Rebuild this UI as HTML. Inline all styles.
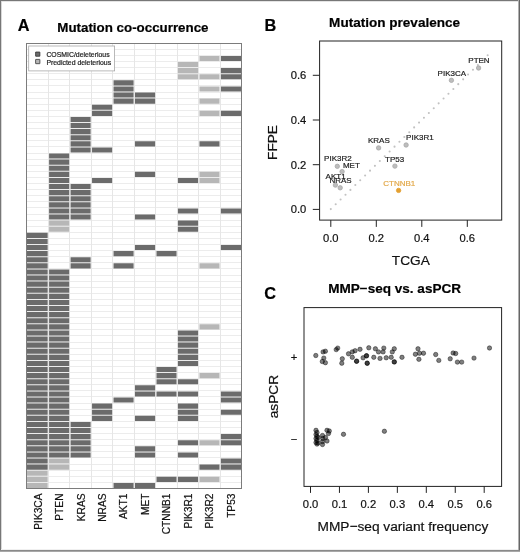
<!DOCTYPE html>
<html><head><meta charset="utf-8"><title>Mutation figure</title>
<style>
html,body{margin:0;padding:0;background:#fff;width:520px;height:552px;overflow:hidden;}
svg{display:block;}
text{font-family:"Liberation Sans",Arial,Helvetica,sans-serif;}
</style></head>
<body>
<svg width="520" height="552" viewBox="0 0 520 552">
<rect x="0" y="0" width="520" height="552" fill="#fff"/>
<g id="panelA">
<path d="M26.9 49.5H241.7M26.9 55.5H241.7M26.9 61.5H241.7M26.9 67.5H241.7M26.9 73.5H241.7M26.9 79.5H241.7M26.9 85.5H241.7M26.9 92.5H241.7M26.9 98.5H241.7M26.9 104.5H241.7M26.9 110.5H241.7M26.9 116.5H241.7M26.9 122.5H241.7M26.9 128.5H241.7M26.9 134.5H241.7M26.9 140.5H241.7M26.9 146.5H241.7M26.9 153.5H241.7M26.9 159.5H241.7M26.9 165.5H241.7M26.9 171.5H241.7M26.9 177.5H241.7M26.9 183.5H241.7M26.9 189.5H241.7M26.9 195.5H241.7M26.9 201.5H241.7M26.9 207.5H241.7M26.9 214.5H241.7M26.9 220.5H241.7M26.9 226.5H241.7M26.9 232.5H241.7M26.9 238.5H241.7M26.9 244.5H241.7M26.9 250.5H241.7M26.9 256.5H241.7M26.9 262.5H241.7M26.9 268.5H241.7M26.9 275.5H241.7M26.9 281.5H241.7M26.9 287.5H241.7M26.9 293.5H241.7M26.9 299.5H241.7M26.9 305.5H241.7M26.9 311.5H241.7M26.9 317.5H241.7M26.9 323.5H241.7M26.9 329.5H241.7M26.9 335.5H241.7M26.9 342.5H241.7M26.9 348.5H241.7M26.9 354.5H241.7M26.9 360.5H241.7M26.9 366.5H241.7M26.9 372.5H241.7M26.9 378.5H241.7M26.9 384.5H241.7M26.9 390.5H241.7M26.9 396.5H241.7M26.9 403.5H241.7M26.9 409.5H241.7M26.9 415.5H241.7M26.9 421.5H241.7M26.9 427.5H241.7M26.9 433.5H241.7M26.9 439.5H241.7M26.9 445.5H241.7M26.9 451.5H241.7M26.9 457.5H241.7M26.9 464.5H241.7M26.9 470.5H241.7M26.9 476.5H241.7M26.9 482.5H241.7" stroke="#ececec" stroke-width="1" fill="none"/>
<path d="M48.5 43.2V488.5M69.5 43.2V488.5M91.5 43.2V488.5M112.5 43.2V488.5M134.5 43.2V488.5M155.5 43.2V488.5M177.5 43.2V488.5M198.5 43.2V488.5M220.5 43.2V488.5" stroke="#e6e6e6" stroke-width="1" fill="none"/>
<path d="M220.92 55.9h20.78v5.1h-20.78zM220.92 68.1h20.78v5.1h-20.78zM220.92 74.2h20.78v5.1h-20.78zM113.52 80.3h20.08v5.1h-20.08zM113.52 86.4h20.08v5.1h-20.08zM220.92 86.4h20.78v5.1h-20.78zM113.52 92.5h20.08v5.1h-20.08zM135 92.5h20.08v5.1h-20.08zM113.52 98.6h20.08v5.1h-20.08zM135 98.6h20.08v5.1h-20.08zM92.04 104.7h20.08v5.1h-20.08zM92.04 110.8h20.08v5.1h-20.08zM220.92 110.8h20.78v5.1h-20.78zM70.56 116.9h20.08v5.1h-20.08zM70.56 123h20.08v5.1h-20.08zM70.56 129.1h20.08v5.1h-20.08zM70.56 135.2h20.08v5.1h-20.08zM70.56 141.3h20.08v5.1h-20.08zM135 141.3h20.08v5.1h-20.08zM199.44 141.3h20.08v5.1h-20.08zM70.56 147.4h20.08v5.1h-20.08zM92.04 147.4h20.08v5.1h-20.08zM49.08 153.5h20.08v5.1h-20.08zM49.08 159.6h20.08v5.1h-20.08zM49.08 165.7h20.08v5.1h-20.08zM49.08 171.8h20.08v5.1h-20.08zM135 171.8h20.08v5.1h-20.08zM49.08 177.9h20.08v5.1h-20.08zM92.04 177.9h20.08v5.1h-20.08zM177.96 177.9h20.08v5.1h-20.08zM49.08 184h20.08v5.1h-20.08zM70.56 184h20.08v5.1h-20.08zM49.08 190.1h20.08v5.1h-20.08zM70.56 190.1h20.08v5.1h-20.08zM49.08 196.2h20.08v5.1h-20.08zM70.56 196.2h20.08v5.1h-20.08zM49.08 202.3h20.08v5.1h-20.08zM70.56 202.3h20.08v5.1h-20.08zM49.08 208.4h20.08v5.1h-20.08zM70.56 208.4h20.08v5.1h-20.08zM177.96 208.4h20.08v5.1h-20.08zM220.92 208.4h20.78v5.1h-20.78zM49.08 214.5h20.08v5.1h-20.08zM70.56 214.5h20.08v5.1h-20.08zM135 214.5h20.08v5.1h-20.08zM177.96 220.6h20.08v5.1h-20.08zM177.96 226.7h20.08v5.1h-20.08zM26.9 232.8h20.78v5.1h-20.78zM26.9 238.9h20.78v5.1h-20.78zM26.9 245h20.78v5.1h-20.78zM135 245h20.08v5.1h-20.08zM220.92 245h20.78v5.1h-20.78zM26.9 251.1h20.78v5.1h-20.78zM113.52 251.1h20.08v5.1h-20.08zM156.48 251.1h20.08v5.1h-20.08zM26.9 257.2h20.78v5.1h-20.78zM70.56 257.2h20.08v5.1h-20.08zM26.9 263.3h20.78v5.1h-20.78zM70.56 263.3h20.08v5.1h-20.08zM113.52 263.3h20.08v5.1h-20.08zM26.9 269.4h20.78v5.1h-20.78zM49.08 269.4h20.08v5.1h-20.08zM26.9 275.5h20.78v5.1h-20.78zM49.08 275.5h20.08v5.1h-20.08zM26.9 281.6h20.78v5.1h-20.78zM49.08 281.6h20.08v5.1h-20.08zM26.9 287.7h20.78v5.1h-20.78zM49.08 287.7h20.08v5.1h-20.08zM26.9 293.8h20.78v5.1h-20.78zM49.08 293.8h20.08v5.1h-20.08zM26.9 299.9h20.78v5.1h-20.78zM49.08 299.9h20.08v5.1h-20.08zM26.9 306h20.78v5.1h-20.78zM49.08 306h20.08v5.1h-20.08zM26.9 312.1h20.78v5.1h-20.78zM49.08 312.1h20.08v5.1h-20.08zM26.9 318.2h20.78v5.1h-20.78zM49.08 318.2h20.08v5.1h-20.08zM26.9 324.3h20.78v5.1h-20.78zM49.08 324.3h20.08v5.1h-20.08zM26.9 330.4h20.78v5.1h-20.78zM49.08 330.4h20.08v5.1h-20.08zM177.96 330.4h20.08v5.1h-20.08zM26.9 336.5h20.78v5.1h-20.78zM49.08 336.5h20.08v5.1h-20.08zM177.96 336.5h20.08v5.1h-20.08zM26.9 342.6h20.78v5.1h-20.78zM49.08 342.6h20.08v5.1h-20.08zM177.96 342.6h20.08v5.1h-20.08zM26.9 348.7h20.78v5.1h-20.78zM49.08 348.7h20.08v5.1h-20.08zM177.96 348.7h20.08v5.1h-20.08zM26.9 354.8h20.78v5.1h-20.78zM49.08 354.8h20.08v5.1h-20.08zM177.96 354.8h20.08v5.1h-20.08zM26.9 360.9h20.78v5.1h-20.78zM49.08 360.9h20.08v5.1h-20.08zM177.96 360.9h20.08v5.1h-20.08zM26.9 367h20.78v5.1h-20.78zM49.08 367h20.08v5.1h-20.08zM156.48 367h20.08v5.1h-20.08zM26.9 373.1h20.78v5.1h-20.78zM49.08 373.1h20.08v5.1h-20.08zM156.48 373.1h20.08v5.1h-20.08zM26.9 379.2h20.78v5.1h-20.78zM49.08 379.2h20.08v5.1h-20.08zM156.48 379.2h20.08v5.1h-20.08zM177.96 379.2h20.08v5.1h-20.08zM26.9 385.3h20.78v5.1h-20.78zM49.08 385.3h20.08v5.1h-20.08zM135 385.3h20.08v5.1h-20.08zM26.9 391.4h20.78v5.1h-20.78zM49.08 391.4h20.08v5.1h-20.08zM135 391.4h20.08v5.1h-20.08zM156.48 391.4h20.08v5.1h-20.08zM177.96 391.4h20.08v5.1h-20.08zM220.92 391.4h20.78v5.1h-20.78zM26.9 397.5h20.78v5.1h-20.78zM49.08 397.5h20.08v5.1h-20.08zM113.52 397.5h20.08v5.1h-20.08zM220.92 397.5h20.78v5.1h-20.78zM26.9 403.6h20.78v5.1h-20.78zM49.08 403.6h20.08v5.1h-20.08zM92.04 403.6h20.08v5.1h-20.08zM177.96 403.6h20.08v5.1h-20.08zM26.9 409.7h20.78v5.1h-20.78zM49.08 409.7h20.08v5.1h-20.08zM92.04 409.7h20.08v5.1h-20.08zM177.96 409.7h20.08v5.1h-20.08zM220.92 409.7h20.78v5.1h-20.78zM26.9 415.8h20.78v5.1h-20.78zM49.08 415.8h20.08v5.1h-20.08zM92.04 415.8h20.08v5.1h-20.08zM135 415.8h20.08v5.1h-20.08zM177.96 415.8h20.08v5.1h-20.08zM26.9 421.9h20.78v5.1h-20.78zM49.08 421.9h20.08v5.1h-20.08zM70.56 421.9h20.08v5.1h-20.08zM26.9 428h20.78v5.1h-20.78zM49.08 428h20.08v5.1h-20.08zM70.56 428h20.08v5.1h-20.08zM26.9 434.1h20.78v5.1h-20.78zM49.08 434.1h20.08v5.1h-20.08zM70.56 434.1h20.08v5.1h-20.08zM220.92 434.1h20.78v5.1h-20.78zM26.9 440.2h20.78v5.1h-20.78zM49.08 440.2h20.08v5.1h-20.08zM70.56 440.2h20.08v5.1h-20.08zM177.96 440.2h20.08v5.1h-20.08zM220.92 440.2h20.78v5.1h-20.78zM26.9 446.3h20.78v5.1h-20.78zM49.08 446.3h20.08v5.1h-20.08zM70.56 446.3h20.08v5.1h-20.08zM135 446.3h20.08v5.1h-20.08zM26.9 452.4h20.78v5.1h-20.78zM49.08 452.4h20.08v5.1h-20.08zM70.56 452.4h20.08v5.1h-20.08zM135 452.4h20.08v5.1h-20.08zM177.96 452.4h20.08v5.1h-20.08zM26.9 458.5h20.78v5.1h-20.78zM220.92 458.5h20.78v5.1h-20.78zM26.9 464.6h20.78v5.1h-20.78zM199.44 464.6h20.08v5.1h-20.08zM220.92 464.6h20.78v5.1h-20.78zM156.48 476.8h20.08v5.1h-20.08zM177.96 476.8h20.08v5.1h-20.08zM113.52 482.9h20.08v5.1h-20.08zM135 482.9h20.08v5.1h-20.08z" fill="#6b6b6b"/>
<path d="M199.44 55.9h20.08v5.1h-20.08zM177.96 62h20.08v5.1h-20.08zM177.96 68.1h20.08v5.1h-20.08zM177.96 74.2h20.08v5.1h-20.08zM199.44 74.2h20.08v5.1h-20.08zM199.44 86.4h20.08v5.1h-20.08zM199.44 98.6h20.08v5.1h-20.08zM199.44 110.8h20.08v5.1h-20.08zM199.44 171.8h20.08v5.1h-20.08zM199.44 177.9h20.08v5.1h-20.08zM49.08 220.6h20.08v5.1h-20.08zM49.08 226.7h20.08v5.1h-20.08zM199.44 263.3h20.08v5.1h-20.08zM199.44 324.3h20.08v5.1h-20.08zM199.44 373.1h20.08v5.1h-20.08zM199.44 440.2h20.08v5.1h-20.08zM49.08 458.5h20.08v5.1h-20.08zM49.08 464.6h20.08v5.1h-20.08zM26.9 470.7h20.78v5.1h-20.78zM26.9 476.8h20.78v5.1h-20.78zM199.44 476.8h20.08v5.1h-20.08zM26.9 482.9h20.78v5.1h-20.78z" fill="#b7b7b7"/>
<rect x="26.5" y="43.5" width="215" height="445" fill="none" stroke="#7c7c7c" stroke-width="1"/>
<rect x="28.7" y="46" width="85.9" height="24.9" fill="#fff" stroke="#a8a8a8" stroke-width="0.8"/>
<rect x="35.6" y="52" width="4.3" height="4.3" fill="#6b6b6b" stroke="#222" stroke-width="0.7" rx="0.25"/>
<rect x="35.6" y="59.4" width="4.3" height="4.3" fill="#b7b7b7" stroke="#222" stroke-width="0.7" rx="0.25"/>
<text x="46.4" y="57" font-size="6.9" fill="#222" stroke="#222" stroke-width="0.2">COSMIC/deleterious</text>
<text x="46.4" y="64.7" font-size="6.9" fill="#222" stroke="#222" stroke-width="0.2">Predicted deleterious</text>
<text transform="translate(41.54 493.5) rotate(-90)" text-anchor="end" font-size="10.2" fill="#111" stroke="#111" stroke-width="0.2">PIK3CA</text>
<text transform="translate(63.02 493.5) rotate(-90)" text-anchor="end" font-size="10.2" fill="#111" stroke="#111" stroke-width="0.2">PTEN</text>
<text transform="translate(84.5 493.5) rotate(-90)" text-anchor="end" font-size="10.2" fill="#111" stroke="#111" stroke-width="0.2">KRAS</text>
<text transform="translate(105.98 493.5) rotate(-90)" text-anchor="end" font-size="10.2" fill="#111" stroke="#111" stroke-width="0.2">NRAS</text>
<text transform="translate(127.46 493.5) rotate(-90)" text-anchor="end" font-size="10.2" fill="#111" stroke="#111" stroke-width="0.2">AKT1</text>
<text transform="translate(148.94 493.5) rotate(-90)" text-anchor="end" font-size="10.2" fill="#111" stroke="#111" stroke-width="0.2">MET</text>
<text transform="translate(170.42 493.5) rotate(-90)" text-anchor="end" font-size="10.2" fill="#111" stroke="#111" stroke-width="0.2">CTNNB1</text>
<text transform="translate(191.9 493.5) rotate(-90)" text-anchor="end" font-size="10.2" fill="#111" stroke="#111" stroke-width="0.2">PIK3R1</text>
<text transform="translate(213.38 493.5) rotate(-90)" text-anchor="end" font-size="10.2" fill="#111" stroke="#111" stroke-width="0.2">PIK3R2</text>
<text transform="translate(234.86 493.5) rotate(-90)" text-anchor="end" font-size="10.2" fill="#111" stroke="#111" stroke-width="0.2">TP53</text>
</g>
<text x="17.8" y="30.8" font-size="16.3" font-weight="bold" fill="#000" stroke="#000" stroke-width="0.2">A</text>
<text x="264.5" y="30.8" font-size="16.3" font-weight="bold" fill="#000" stroke="#000" stroke-width="0.2">B</text>
<text x="264.2" y="298.8" font-size="16.3" font-weight="bold" fill="#000" stroke="#000" stroke-width="0.2">C</text>
<text x="132.9" y="32" font-size="13.35" font-weight="bold" text-anchor="middle" fill="#000" stroke="#000" stroke-width="0.2">Mutation co-occurrence</text>
<text x="394.6" y="27.4" font-size="13.55" font-weight="bold" text-anchor="middle" fill="#000" stroke="#000" stroke-width="0.2">Mutation prevalence</text>
<text x="394.6" y="293" font-size="13.55" font-weight="bold" text-anchor="middle" fill="#000" stroke="#000" stroke-width="0.2">MMP−seq vs. asPCR</text>
<g id="panelB">
<rect x="319.6" y="41" width="182.1" height="179.1" fill="none" stroke="#222" stroke-width="1"/>
<path d="M312.8 209.4H319.6" stroke="#222" stroke-width="1"/>
<text x="306.3" y="213.3" font-size="11.2" text-anchor="end" fill="#111" stroke="#111" stroke-width="0.2">0.0</text>
<path d="M330.8 220.1V226.9" stroke="#222" stroke-width="1"/>
<text x="330.8" y="242" font-size="11.2" text-anchor="middle" fill="#111" stroke="#111" stroke-width="0.2">0.0</text>
<path d="M312.8 164.7H319.6" stroke="#222" stroke-width="1"/>
<text x="306.3" y="168.6" font-size="11.2" text-anchor="end" fill="#111" stroke="#111" stroke-width="0.2">0.2</text>
<path d="M376.3 220.1V226.9" stroke="#222" stroke-width="1"/>
<text x="376.3" y="242" font-size="11.2" text-anchor="middle" fill="#111" stroke="#111" stroke-width="0.2">0.2</text>
<path d="M312.8 120H319.6" stroke="#222" stroke-width="1"/>
<text x="306.3" y="123.9" font-size="11.2" text-anchor="end" fill="#111" stroke="#111" stroke-width="0.2">0.4</text>
<path d="M421.8 220.1V226.9" stroke="#222" stroke-width="1"/>
<text x="421.8" y="242" font-size="11.2" text-anchor="middle" fill="#111" stroke="#111" stroke-width="0.2">0.4</text>
<path d="M312.8 75.3H319.6" stroke="#222" stroke-width="1"/>
<text x="306.3" y="79.2" font-size="11.2" text-anchor="end" fill="#111" stroke="#111" stroke-width="0.2">0.6</text>
<path d="M467.3 220.1V226.9" stroke="#222" stroke-width="1"/>
<text x="467.3" y="242" font-size="11.2" text-anchor="middle" fill="#111" stroke="#111" stroke-width="0.2">0.6</text>
<text x="410.8" y="265.2" font-size="13.7" text-anchor="middle" fill="#111" stroke="#111" stroke-width="0.2">TCGA</text>
<text transform="translate(276.8 142.5) rotate(-90)" font-size="13.7" text-anchor="middle" fill="#111" stroke="#111" stroke-width="0.2">FFPE</text>
<path d="M330.8 209.1L488 55" stroke="#c2c2c2" stroke-width="2.1" stroke-dasharray="0 6.865" stroke-dashoffset="0" stroke-linecap="round" fill="none"/>
<circle cx="478.6" cy="68" r="2.2" fill="#bdbdbd" stroke="#a8a8a8" stroke-width="0.8"/>
<circle cx="451.4" cy="80.3" r="2.2" fill="#bdbdbd" stroke="#a8a8a8" stroke-width="0.8"/>
<circle cx="378.6" cy="147.9" r="2.2" fill="#bdbdbd" stroke="#a8a8a8" stroke-width="0.8"/>
<circle cx="406.1" cy="145" r="2.2" fill="#bdbdbd" stroke="#a8a8a8" stroke-width="0.8"/>
<circle cx="394.9" cy="166.1" r="2.2" fill="#bdbdbd" stroke="#a8a8a8" stroke-width="0.8"/>
<circle cx="337.3" cy="166.3" r="2.2" fill="#bdbdbd" stroke="#a8a8a8" stroke-width="0.8"/>
<circle cx="342.1" cy="171.6" r="2.2" fill="#bdbdbd" stroke="#a8a8a8" stroke-width="0.8"/>
<circle cx="335.4" cy="185.1" r="2.2" fill="#bdbdbd" stroke="#a8a8a8" stroke-width="0.8"/>
<circle cx="340.2" cy="187.8" r="2.2" fill="#bdbdbd" stroke="#a8a8a8" stroke-width="0.8"/>
<circle cx="398.6" cy="190.4" r="2.2" fill="#e3a030" stroke="#e3a030" stroke-width="0.8"/>
<text x="468.3" y="63" font-size="8" fill="#222" stroke="#222" stroke-width="0.2">PTEN</text>
<text x="437.6" y="76.1" font-size="8" fill="#222" stroke="#222" stroke-width="0.2">PIK3CA</text>
<text x="368" y="143.3" font-size="8" fill="#222" stroke="#222" stroke-width="0.2">KRAS</text>
<text x="406.1" y="139.7" font-size="8" fill="#222" stroke="#222" stroke-width="0.2">PIK3R1</text>
<text x="385" y="161.9" font-size="8" fill="#222" stroke="#222" stroke-width="0.2">TP53</text>
<text x="324.1" y="161.3" font-size="8" fill="#222" stroke="#222" stroke-width="0.2">PIK3R2</text>
<text x="342.9" y="167.8" font-size="8" fill="#222" stroke="#222" stroke-width="0.2">MET</text>
<text x="325.6" y="179.3" font-size="8" fill="#222" stroke="#222" stroke-width="0.2">AKT1</text>
<text x="329.4" y="182.7" font-size="8" fill="#222" stroke="#222" stroke-width="0.2">NRAS</text>
<text x="383.3" y="186.2" font-size="8" fill="#e2a849" stroke="#e2a849" stroke-width="0.2">CTNNB1</text>
</g>
<g id="panelC">
<rect x="304" y="307.6" width="197.6" height="178.8" fill="none" stroke="#222" stroke-width="1"/>
<path d="M310.5 486.4V492.9" stroke="#222" stroke-width="1"/>
<text x="310.5" y="507.8" font-size="11.2" text-anchor="middle" fill="#111" stroke="#111" stroke-width="0.2">0.0</text>
<path d="M339.45 486.4V492.9" stroke="#222" stroke-width="1"/>
<text x="339.45" y="507.8" font-size="11.2" text-anchor="middle" fill="#111" stroke="#111" stroke-width="0.2">0.1</text>
<path d="M368.4 486.4V492.9" stroke="#222" stroke-width="1"/>
<text x="368.4" y="507.8" font-size="11.2" text-anchor="middle" fill="#111" stroke="#111" stroke-width="0.2">0.2</text>
<path d="M397.35 486.4V492.9" stroke="#222" stroke-width="1"/>
<text x="397.35" y="507.8" font-size="11.2" text-anchor="middle" fill="#111" stroke="#111" stroke-width="0.2">0.3</text>
<path d="M426.3 486.4V492.9" stroke="#222" stroke-width="1"/>
<text x="426.3" y="507.8" font-size="11.2" text-anchor="middle" fill="#111" stroke="#111" stroke-width="0.2">0.4</text>
<path d="M455.25 486.4V492.9" stroke="#222" stroke-width="1"/>
<text x="455.25" y="507.8" font-size="11.2" text-anchor="middle" fill="#111" stroke="#111" stroke-width="0.2">0.5</text>
<path d="M484.2 486.4V492.9" stroke="#222" stroke-width="1"/>
<text x="484.2" y="507.8" font-size="11.2" text-anchor="middle" fill="#111" stroke="#111" stroke-width="0.2">0.6</text>
<text x="294.1" y="361.25" font-size="11.2" text-anchor="middle" fill="#111" stroke="#111" stroke-width="0.2">+</text>
<text x="294.1" y="442.7" font-size="11.2" text-anchor="middle" fill="#111" stroke="#111" stroke-width="0.2">−</text>
<text x="402.9" y="531.4" font-size="13.7" text-anchor="middle" fill="#111" stroke="#111" stroke-width="0.2">MMP−seq variant frequency</text>
<text transform="translate(278 396.6) rotate(-90)" font-size="13.7" text-anchor="middle" fill="#111" stroke="#111" stroke-width="0.2">asPCR</text>
<circle cx="315.8" cy="355.5" r="2.2" fill="#000" fill-opacity="0.5" stroke="#000" stroke-opacity="0.5" stroke-width="0.8"/>
<circle cx="323.1" cy="351.9" r="2.2" fill="#000" fill-opacity="0.5" stroke="#000" stroke-opacity="0.5" stroke-width="0.8"/>
<circle cx="325.4" cy="351.2" r="2.2" fill="#000" fill-opacity="0.5" stroke="#000" stroke-opacity="0.5" stroke-width="0.8"/>
<circle cx="323.8" cy="358.1" r="2.2" fill="#000" fill-opacity="0.5" stroke="#000" stroke-opacity="0.5" stroke-width="0.8"/>
<circle cx="322.3" cy="361.5" r="2.2" fill="#000" fill-opacity="0.5" stroke="#000" stroke-opacity="0.5" stroke-width="0.8"/>
<circle cx="325.4" cy="362.7" r="2.2" fill="#000" fill-opacity="0.5" stroke="#000" stroke-opacity="0.5" stroke-width="0.8"/>
<circle cx="336.2" cy="349.6" r="2.2" fill="#000" fill-opacity="0.5" stroke="#000" stroke-opacity="0.5" stroke-width="0.8"/>
<circle cx="337.7" cy="348.1" r="2.2" fill="#000" fill-opacity="0.5" stroke="#000" stroke-opacity="0.5" stroke-width="0.8"/>
<circle cx="342.3" cy="358.8" r="2.2" fill="#000" fill-opacity="0.5" stroke="#000" stroke-opacity="0.5" stroke-width="0.8"/>
<circle cx="341.8" cy="363.2" r="2.2" fill="#000" fill-opacity="0.5" stroke="#000" stroke-opacity="0.5" stroke-width="0.8"/>
<circle cx="348.5" cy="353.8" r="2.2" fill="#000" fill-opacity="0.5" stroke="#000" stroke-opacity="0.5" stroke-width="0.8"/>
<circle cx="352.3" cy="351.9" r="2.2" fill="#000" fill-opacity="0.5" stroke="#000" stroke-opacity="0.5" stroke-width="0.8"/>
<circle cx="355.1" cy="350.7" r="2.2" fill="#000" fill-opacity="0.5" stroke="#000" stroke-opacity="0.5" stroke-width="0.8"/>
<circle cx="360" cy="349.3" r="2.2" fill="#000" fill-opacity="0.5" stroke="#000" stroke-opacity="0.5" stroke-width="0.8"/>
<circle cx="352.3" cy="357.3" r="2.2" fill="#000" fill-opacity="0.5" stroke="#000" stroke-opacity="0.5" stroke-width="0.8"/>
<circle cx="356.6" cy="361.2" r="2.2" fill="#000" fill-opacity="0.5" stroke="#000" stroke-opacity="0.5" stroke-width="0.8"/>
<circle cx="363.1" cy="357.8" r="2.2" fill="#000" fill-opacity="0.5" stroke="#000" stroke-opacity="0.5" stroke-width="0.8"/>
<circle cx="366.5" cy="355.8" r="2.2" fill="#000" fill-opacity="0.5" stroke="#000" stroke-opacity="0.5" stroke-width="0.8"/>
<circle cx="368.8" cy="347.8" r="2.2" fill="#000" fill-opacity="0.5" stroke="#000" stroke-opacity="0.5" stroke-width="0.8"/>
<circle cx="367.2" cy="363.2" r="2.2" fill="#000" fill-opacity="0.5" stroke="#000" stroke-opacity="0.5" stroke-width="0.8"/>
<circle cx="373.8" cy="357.3" r="2.2" fill="#000" fill-opacity="0.5" stroke="#000" stroke-opacity="0.5" stroke-width="0.8"/>
<circle cx="375.4" cy="348.8" r="2.2" fill="#000" fill-opacity="0.5" stroke="#000" stroke-opacity="0.5" stroke-width="0.8"/>
<circle cx="378.5" cy="351.9" r="2.2" fill="#000" fill-opacity="0.5" stroke="#000" stroke-opacity="0.5" stroke-width="0.8"/>
<circle cx="380" cy="358.4" r="2.2" fill="#000" fill-opacity="0.5" stroke="#000" stroke-opacity="0.5" stroke-width="0.8"/>
<circle cx="383.8" cy="348.1" r="2.2" fill="#000" fill-opacity="0.5" stroke="#000" stroke-opacity="0.5" stroke-width="0.8"/>
<circle cx="383.1" cy="351.9" r="2.2" fill="#000" fill-opacity="0.5" stroke="#000" stroke-opacity="0.5" stroke-width="0.8"/>
<circle cx="386.2" cy="357.8" r="2.2" fill="#000" fill-opacity="0.5" stroke="#000" stroke-opacity="0.5" stroke-width="0.8"/>
<circle cx="391.2" cy="357.3" r="2.2" fill="#000" fill-opacity="0.5" stroke="#000" stroke-opacity="0.5" stroke-width="0.8"/>
<circle cx="394.3" cy="348.8" r="2.2" fill="#000" fill-opacity="0.5" stroke="#000" stroke-opacity="0.5" stroke-width="0.8"/>
<circle cx="392.3" cy="351.9" r="2.2" fill="#000" fill-opacity="0.5" stroke="#000" stroke-opacity="0.5" stroke-width="0.8"/>
<circle cx="394.3" cy="361.9" r="2.2" fill="#000" fill-opacity="0.5" stroke="#000" stroke-opacity="0.5" stroke-width="0.8"/>
<circle cx="402" cy="357.3" r="2.2" fill="#000" fill-opacity="0.5" stroke="#000" stroke-opacity="0.5" stroke-width="0.8"/>
<circle cx="418" cy="348.8" r="2.2" fill="#000" fill-opacity="0.5" stroke="#000" stroke-opacity="0.5" stroke-width="0.8"/>
<circle cx="415.4" cy="354.2" r="2.2" fill="#000" fill-opacity="0.5" stroke="#000" stroke-opacity="0.5" stroke-width="0.8"/>
<circle cx="419.5" cy="353.2" r="2.2" fill="#000" fill-opacity="0.5" stroke="#000" stroke-opacity="0.5" stroke-width="0.8"/>
<circle cx="423.5" cy="353.2" r="2.2" fill="#000" fill-opacity="0.5" stroke="#000" stroke-opacity="0.5" stroke-width="0.8"/>
<circle cx="418.9" cy="359.3" r="2.2" fill="#000" fill-opacity="0.5" stroke="#000" stroke-opacity="0.5" stroke-width="0.8"/>
<circle cx="435.7" cy="354.5" r="2.2" fill="#000" fill-opacity="0.5" stroke="#000" stroke-opacity="0.5" stroke-width="0.8"/>
<circle cx="438.8" cy="360.4" r="2.2" fill="#000" fill-opacity="0.5" stroke="#000" stroke-opacity="0.5" stroke-width="0.8"/>
<circle cx="450.2" cy="358.8" r="2.2" fill="#000" fill-opacity="0.5" stroke="#000" stroke-opacity="0.5" stroke-width="0.8"/>
<circle cx="453.1" cy="353" r="2.2" fill="#000" fill-opacity="0.5" stroke="#000" stroke-opacity="0.5" stroke-width="0.8"/>
<circle cx="455.7" cy="353.5" r="2.2" fill="#000" fill-opacity="0.5" stroke="#000" stroke-opacity="0.5" stroke-width="0.8"/>
<circle cx="457.4" cy="362.1" r="2.2" fill="#000" fill-opacity="0.5" stroke="#000" stroke-opacity="0.5" stroke-width="0.8"/>
<circle cx="461.7" cy="362.1" r="2.2" fill="#000" fill-opacity="0.5" stroke="#000" stroke-opacity="0.5" stroke-width="0.8"/>
<circle cx="474" cy="358.1" r="2.2" fill="#000" fill-opacity="0.5" stroke="#000" stroke-opacity="0.5" stroke-width="0.8"/>
<circle cx="489.5" cy="348" r="2.2" fill="#000" fill-opacity="0.5" stroke="#000" stroke-opacity="0.5" stroke-width="0.8"/>
<circle cx="356.6" cy="361.2" r="2.2" fill="#000" fill-opacity="0.5" stroke="#000" stroke-opacity="0.5" stroke-width="0.8"/>
<circle cx="367.2" cy="363.2" r="2.2" fill="#000" fill-opacity="0.5" stroke="#000" stroke-opacity="0.5" stroke-width="0.8"/>
<circle cx="366.5" cy="355.8" r="2.2" fill="#000" fill-opacity="0.5" stroke="#000" stroke-opacity="0.5" stroke-width="0.8"/>
<circle cx="394.3" cy="361.9" r="2.2" fill="#000" fill-opacity="0.5" stroke="#000" stroke-opacity="0.5" stroke-width="0.8"/>
<circle cx="316" cy="430.3" r="2.2" fill="#000" fill-opacity="0.5" stroke="#000" stroke-opacity="0.5" stroke-width="0.8"/>
<circle cx="317" cy="432.5" r="2.2" fill="#000" fill-opacity="0.5" stroke="#000" stroke-opacity="0.5" stroke-width="0.8"/>
<circle cx="316" cy="434.5" r="2.2" fill="#000" fill-opacity="0.5" stroke="#000" stroke-opacity="0.5" stroke-width="0.8"/>
<circle cx="317" cy="436.5" r="2.2" fill="#000" fill-opacity="0.5" stroke="#000" stroke-opacity="0.5" stroke-width="0.8"/>
<circle cx="316" cy="438.5" r="2.2" fill="#000" fill-opacity="0.5" stroke="#000" stroke-opacity="0.5" stroke-width="0.8"/>
<circle cx="317" cy="440.5" r="2.2" fill="#000" fill-opacity="0.5" stroke="#000" stroke-opacity="0.5" stroke-width="0.8"/>
<circle cx="316" cy="442.5" r="2.2" fill="#000" fill-opacity="0.5" stroke="#000" stroke-opacity="0.5" stroke-width="0.8"/>
<circle cx="317" cy="444.1" r="2.2" fill="#000" fill-opacity="0.5" stroke="#000" stroke-opacity="0.5" stroke-width="0.8"/>
<circle cx="318.2" cy="437.5" r="2.2" fill="#000" fill-opacity="0.5" stroke="#000" stroke-opacity="0.5" stroke-width="0.8"/>
<circle cx="318" cy="443" r="2.2" fill="#000" fill-opacity="0.5" stroke="#000" stroke-opacity="0.5" stroke-width="0.8"/>
<circle cx="322.5" cy="435.5" r="2.2" fill="#000" fill-opacity="0.5" stroke="#000" stroke-opacity="0.5" stroke-width="0.8"/>
<circle cx="322.8" cy="438.5" r="2.2" fill="#000" fill-opacity="0.5" stroke="#000" stroke-opacity="0.5" stroke-width="0.8"/>
<circle cx="322.5" cy="441.5" r="2.2" fill="#000" fill-opacity="0.5" stroke="#000" stroke-opacity="0.5" stroke-width="0.8"/>
<circle cx="322.5" cy="444.5" r="2.2" fill="#000" fill-opacity="0.5" stroke="#000" stroke-opacity="0.5" stroke-width="0.8"/>
<circle cx="327" cy="430.3" r="2.2" fill="#000" fill-opacity="0.5" stroke="#000" stroke-opacity="0.5" stroke-width="0.8"/>
<circle cx="329.3" cy="431" r="2.2" fill="#000" fill-opacity="0.5" stroke="#000" stroke-opacity="0.5" stroke-width="0.8"/>
<circle cx="328.5" cy="433.5" r="2.2" fill="#000" fill-opacity="0.5" stroke="#000" stroke-opacity="0.5" stroke-width="0.8"/>
<circle cx="327" cy="441" r="2.2" fill="#000" fill-opacity="0.5" stroke="#000" stroke-opacity="0.5" stroke-width="0.8"/>
<circle cx="325.5" cy="437.5" r="2.2" fill="#000" fill-opacity="0.5" stroke="#000" stroke-opacity="0.5" stroke-width="0.8"/>
<circle cx="343.5" cy="434.3" r="2.2" fill="#000" fill-opacity="0.5" stroke="#000" stroke-opacity="0.5" stroke-width="0.8"/>
<circle cx="384.4" cy="431.25" r="2.2" fill="#000" fill-opacity="0.5" stroke="#000" stroke-opacity="0.5" stroke-width="0.8"/>
</g>
<rect x="0" y="0" width="520" height="1" fill="#777"/>
<rect x="1" y="1" width="517" height="1" fill="#e4e4e4"/>
<rect x="0" y="0" width="1" height="552" fill="#777"/>
<rect x="1" y="1" width="1" height="549" fill="#d8d8d8"/>
<rect x="518" y="0" width="1" height="552" fill="#b0b0b0"/>
<rect x="519" y="0" width="1" height="552" fill="#666"/>
<rect x="1" y="549" width="517" height="1" fill="#f0f0f0"/>
<rect x="0" y="550" width="520" height="1" fill="#8a8a8a"/>
<rect x="0" y="551" width="520" height="1" fill="#a8a8a8"/>
</svg>
</body></html>
